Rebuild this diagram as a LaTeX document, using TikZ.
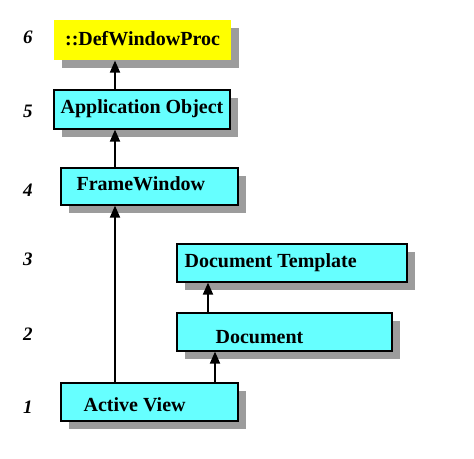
\documentclass[tikz,border=0pt]{standalone}
\usepackage{fontspec}
\setmainfont{Liberation Serif}
\usetikzlibrary{arrows.meta, positioning, shadows}
\definecolor{ccyan}{HTML}{66FFFF}
\definecolor{cyell}{HTML}{FFFF00}
\definecolor{cshad}{HTML}{9C9C9C}

\begin{document}
\begin{tikzpicture}[
  x=1pt, y=-1pt,
  font=\fontsize{20}{24}\selectfont\bfseries,
  >={Triangle[length=12pt, width=10pt]},
  box/.style={draw, line width=1.2pt, fill=ccyan, minimum height=38pt,
              inner sep=0pt,
              drop shadow={shadow xshift=8pt, shadow yshift=-8pt,
                           fill=cshad, opacity=1}},
  procbox/.style={box, fill=cyell, draw=none},
  lbl/.style={inner sep=0pt, text height=13pt, text depth=5pt},
  num/.style={lbl, font=\fontsize{19}{24}\selectfont\bfseries\itshape},
  arr/.style={->, line width=1.8pt},
  ]
\useasboundingbox (0,0) rectangle (474,458);
% ---- level numbers
\node[num] (n6) at (28,39)  {6};
\node[num] (n5) at (28,113) {5};
\node[num] (n4) at (28,192) {4};
\node[num] (n3) at (28,261) {3};
\node[num] (n2) at (28,336) {2};
\node[num] (n1) at (28,409) {1};
% ---- boxes
\node[procbox, minimum width=177pt, minimum height=40pt] (dwp)  at (142.5,40)  {};
\node[box, minimum width=176pt, minimum height=39pt]     (app)  at (142,109.5) {};
\node[box, minimum width=177pt, minimum height=37pt]     (frm)  at (149.5,186.5) {};
\node[box, minimum width=230pt]                          (tmpl) at (292,263)   {};
\node[box, minimum width=215pt]                          (doc)  at (284.5,332) {};
\node[box, minimum width=177pt]                          (view) at (149.5,402) {};
% ---- labels
\node[lbl, yshift=-1.5pt] (dwpl) at (dwp) {::DefWindowProc};
\node[lbl] (appl)  at (app)  {Application Object};
\node[lbl, right=16pt of frm.west]  (frml)  {FrameWindow};
\node[lbl, right=8pt of tmpl.west]  (tmpll) {Document Template};
\node[lbl, right=39pt of doc.west, yshift=-7pt]  (docl)  {Document};
\node[lbl, right=23pt of view.west, yshift=-5pt] (viewl) {Active View};
% ---- arrows
\draw[arr] ([xshift=-27pt]app.north) -- ([xshift=-27pt]app.north |- dwp.south);
\draw[arr] ([xshift=-34.5pt]frm.north) -- ([xshift=-34.5pt]frm.north |- app.south);
\draw[arr] ([xshift=-34.5pt]view.north) -- ([xshift=-34.5pt]view.north |- frm.south);
\draw[arr] ([xshift=65.5pt]view.north) -- ([xshift=65.5pt]view.north |- doc.south);
\draw[arr] ([xshift=-76.5pt]doc.north) -- ([xshift=-76.5pt]doc.north |- tmpl.south);
\end{tikzpicture}
\end{document}
